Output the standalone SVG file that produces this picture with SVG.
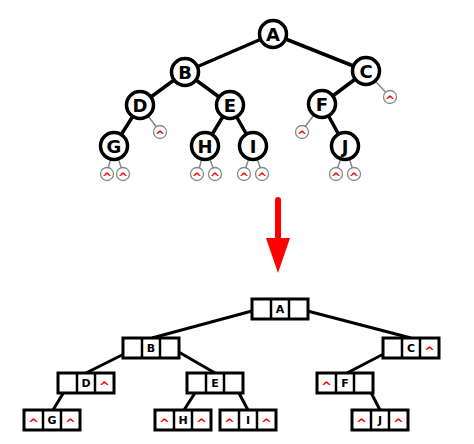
<svg xmlns="http://www.w3.org/2000/svg" width="474" height="444" viewBox="0 0 474 444">
<style>
.edge{stroke:#000;stroke-width:3.5;fill:none;stroke-linecap:round}
.nl{stroke:#888;stroke-width:1.5;fill:none}
.node circle{fill:#fff;stroke:#000;stroke-width:3.5}
.node text{font-family:"DejaVu Sans",sans-serif;font-weight:bold;font-size:18px;text-anchor:middle;fill:#000}
.nil circle{fill:#fff;stroke:#888;stroke-width:1.3}
.nil text{font-family:"DejaVu Sans",sans-serif;font-weight:bold;font-size:12px;text-anchor:middle;fill:#e00}
.box rect{fill:#fff;stroke:#000;stroke-width:3}
.box line{stroke:#000;stroke-width:2.5}
.box text{font-family:"DejaVu Sans",sans-serif;font-weight:bold;font-size:11px;text-anchor:middle;fill:#000}
.box text.caret{fill:#e00;font-size:13px}
.ptr{stroke:#000;stroke-width:3;fill:none}
</style>
<g id="connectors">
  <line class="edge" x1="273" y1="34" x2="185" y2="72"/>
  <line class="edge" x1="273" y1="34" x2="366" y2="71"/>
  <line class="edge" x1="185" y1="72" x2="140" y2="105"/>
  <line class="edge" x1="185" y1="72" x2="230" y2="105"/>
  <line class="edge" x1="366" y1="71" x2="322" y2="104"/>
  <line class="edge" x1="140" y1="105" x2="114" y2="146"/>
  <line class="edge" x1="230" y1="105" x2="205" y2="146"/>
  <line class="edge" x1="230" y1="105" x2="253" y2="146"/>
  <line class="edge" x1="322" y1="104" x2="345" y2="146"/>
  <line class="nl" x1="366" y1="71" x2="390" y2="97"/>
  <line class="nl" x1="322" y1="104" x2="302" y2="131"/>
  <line class="nl" x1="140" y1="105" x2="160" y2="132"/>
  <line class="nl" x1="114" y1="146" x2="107" y2="173"/>
  <line class="nl" x1="114" y1="146" x2="123" y2="173"/>
  <line class="nl" x1="205" y1="146" x2="198" y2="173"/>
  <line class="nl" x1="205" y1="146" x2="215" y2="173"/>
  <line class="nl" x1="253" y1="146" x2="244" y2="173"/>
  <line class="nl" x1="253" y1="146" x2="262" y2="173"/>
  <line class="nl" x1="345" y1="146" x2="336" y2="173"/>
  <line class="nl" x1="345" y1="146" x2="354" y2="173"/>
  <line x1="278" y1="200" x2="278" y2="240" stroke="#f00" stroke-width="6" stroke-linecap="round"/>
  <polygon points="266,238 290,238 278,273" fill="#f00"/>
  <line class="ptr" x1="263" y1="308" x2="152" y2="338"/>
  <line class="ptr" x1="296" y1="308" x2="411" y2="338"/>
  <line class="ptr" x1="134" y1="349" x2="86" y2="373"/>
  <line class="ptr" x1="170" y1="347" x2="215" y2="373"/>
  <line class="ptr" x1="397" y1="347" x2="347" y2="373"/>
  <line class="ptr" x1="70" y1="382" x2="53" y2="410"/>
  <line class="ptr" x1="202" y1="382" x2="184" y2="410"/>
  <line class="ptr" x1="233" y1="382" x2="248" y2="410"/>
  <line class="ptr" x1="366" y1="383" x2="380" y2="410"/>
</g>
<g id="nA" class="node"><circle cx="273" cy="34" r="13.5"/><text x="273" y="40.5">A</text></g>
<g id="nB" class="node"><circle cx="185" cy="72" r="13.5"/><text x="185" y="78.5">B</text></g>
<g id="nC" class="node"><circle cx="366" cy="71" r="13.5"/><text x="366" y="77.5">C</text></g>
<g id="nD" class="node"><circle cx="140" cy="105" r="13.5"/><text x="140" y="111.5">D</text></g>
<g id="nE" class="node"><circle cx="230" cy="105" r="13.5"/><text x="230" y="111.5">E</text></g>
<g id="nF" class="node"><circle cx="322" cy="104" r="13.5"/><text x="322" y="110.5">F</text></g>
<g id="nG" class="node"><circle cx="114" cy="146" r="13.5"/><text x="114" y="152.5">G</text></g>
<g id="nH" class="node"><circle cx="205" cy="146" r="13.5"/><text x="205" y="152.5">H</text></g>
<g id="nI" class="node"><circle cx="253" cy="146" r="13.5"/><text x="253" y="152.5">I</text></g>
<g id="nJ" class="node"><circle cx="345" cy="146" r="13.5"/><text x="345" y="152.5">J</text></g>
<g id="nil1" class="nil"><circle cx="390" cy="97" r="6.5"/><text x="390" y="105">^</text></g>
<g id="nil2" class="nil"><circle cx="302" cy="132" r="6.5"/><text x="302" y="140">^</text></g>
<g id="nil3" class="nil"><circle cx="160" cy="132" r="6.5"/><text x="160" y="140">^</text></g>
<g id="nil4" class="nil"><circle cx="107" cy="174" r="6.5"/><text x="107" y="182">^</text></g>
<g id="nil5" class="nil"><circle cx="123" cy="174" r="6.5"/><text x="123" y="182">^</text></g>
<g id="nil6" class="nil"><circle cx="197" cy="174" r="6.5"/><text x="197" y="182">^</text></g>
<g id="nil7" class="nil"><circle cx="215" cy="174" r="6.5"/><text x="215" y="182">^</text></g>
<g id="nil8" class="nil"><circle cx="244" cy="174" r="6.5"/><text x="244" y="182">^</text></g>
<g id="nil9" class="nil"><circle cx="262" cy="174" r="6.5"/><text x="262" y="182">^</text></g>
<g id="nil10" class="nil"><circle cx="336" cy="174" r="6.5"/><text x="336" y="182">^</text></g>
<g id="nil11" class="nil"><circle cx="354" cy="174" r="6.5"/><text x="354" y="182">^</text></g>

<g id="bA" class="box" transform="translate(252,299)"><rect width="56" height="20"/><line x1="19" y1="0" x2="19" y2="20"/><line x1="37" y1="0" x2="37" y2="20"/><text x="28" y="14">A</text></g>
<g id="bB" class="box" transform="translate(123,338)"><rect width="56" height="20"/><line x1="19" y1="0" x2="19" y2="20"/><line x1="37" y1="0" x2="37" y2="20"/><text x="28" y="14">B</text></g>
<g id="bC" class="box" transform="translate(383,338)"><rect width="56" height="20"/><line x1="19" y1="0" x2="19" y2="20"/><line x1="37" y1="0" x2="37" y2="20"/><text x="28" y="14">C</text><text class="caret" x="46.5" y="18">^</text></g>
<g id="bD" class="box" transform="translate(58,373)"><rect width="56" height="20"/><line x1="19" y1="0" x2="19" y2="20"/><line x1="37" y1="0" x2="37" y2="20"/><text x="28" y="14">D</text><text class="caret" x="46.5" y="18">^</text></g>
<g id="bE" class="box" transform="translate(187,373)"><rect width="56" height="20"/><line x1="19" y1="0" x2="19" y2="20"/><line x1="37" y1="0" x2="37" y2="20"/><text x="28" y="14">E</text></g>
<g id="bF" class="box" transform="translate(317,373)"><rect width="56" height="20"/><line x1="19" y1="0" x2="19" y2="20"/><line x1="37" y1="0" x2="37" y2="20"/><text x="28" y="14">F</text><text class="caret" x="9.5" y="18">^</text></g>
<g id="bG" class="box" transform="translate(24,410)"><rect width="56" height="20"/><line x1="19" y1="0" x2="19" y2="20"/><line x1="37" y1="0" x2="37" y2="20"/><text x="28" y="14">G</text><text class="caret" x="9.5" y="18">^</text><text class="caret" x="46.5" y="18">^</text></g>
<g id="bH" class="box" transform="translate(155,410)"><rect width="56" height="20"/><line x1="19" y1="0" x2="19" y2="20"/><line x1="37" y1="0" x2="37" y2="20"/><text x="28" y="14">H</text><text class="caret" x="9.5" y="18">^</text><text class="caret" x="46.5" y="18">^</text></g>
<g id="bI" class="box" transform="translate(220,410)"><rect width="56" height="20"/><line x1="19" y1="0" x2="19" y2="20"/><line x1="37" y1="0" x2="37" y2="20"/><text x="28" y="14">I</text><text class="caret" x="9.5" y="18">^</text><text class="caret" x="46.5" y="18">^</text></g>
<g id="bJ" class="box" transform="translate(352,410)"><rect width="56" height="20"/><line x1="19" y1="0" x2="19" y2="20"/><line x1="37" y1="0" x2="37" y2="20"/><text x="28" y="14">J</text><text class="caret" x="9.5" y="18">^</text><text class="caret" x="46.5" y="18">^</text></g>
</svg>
